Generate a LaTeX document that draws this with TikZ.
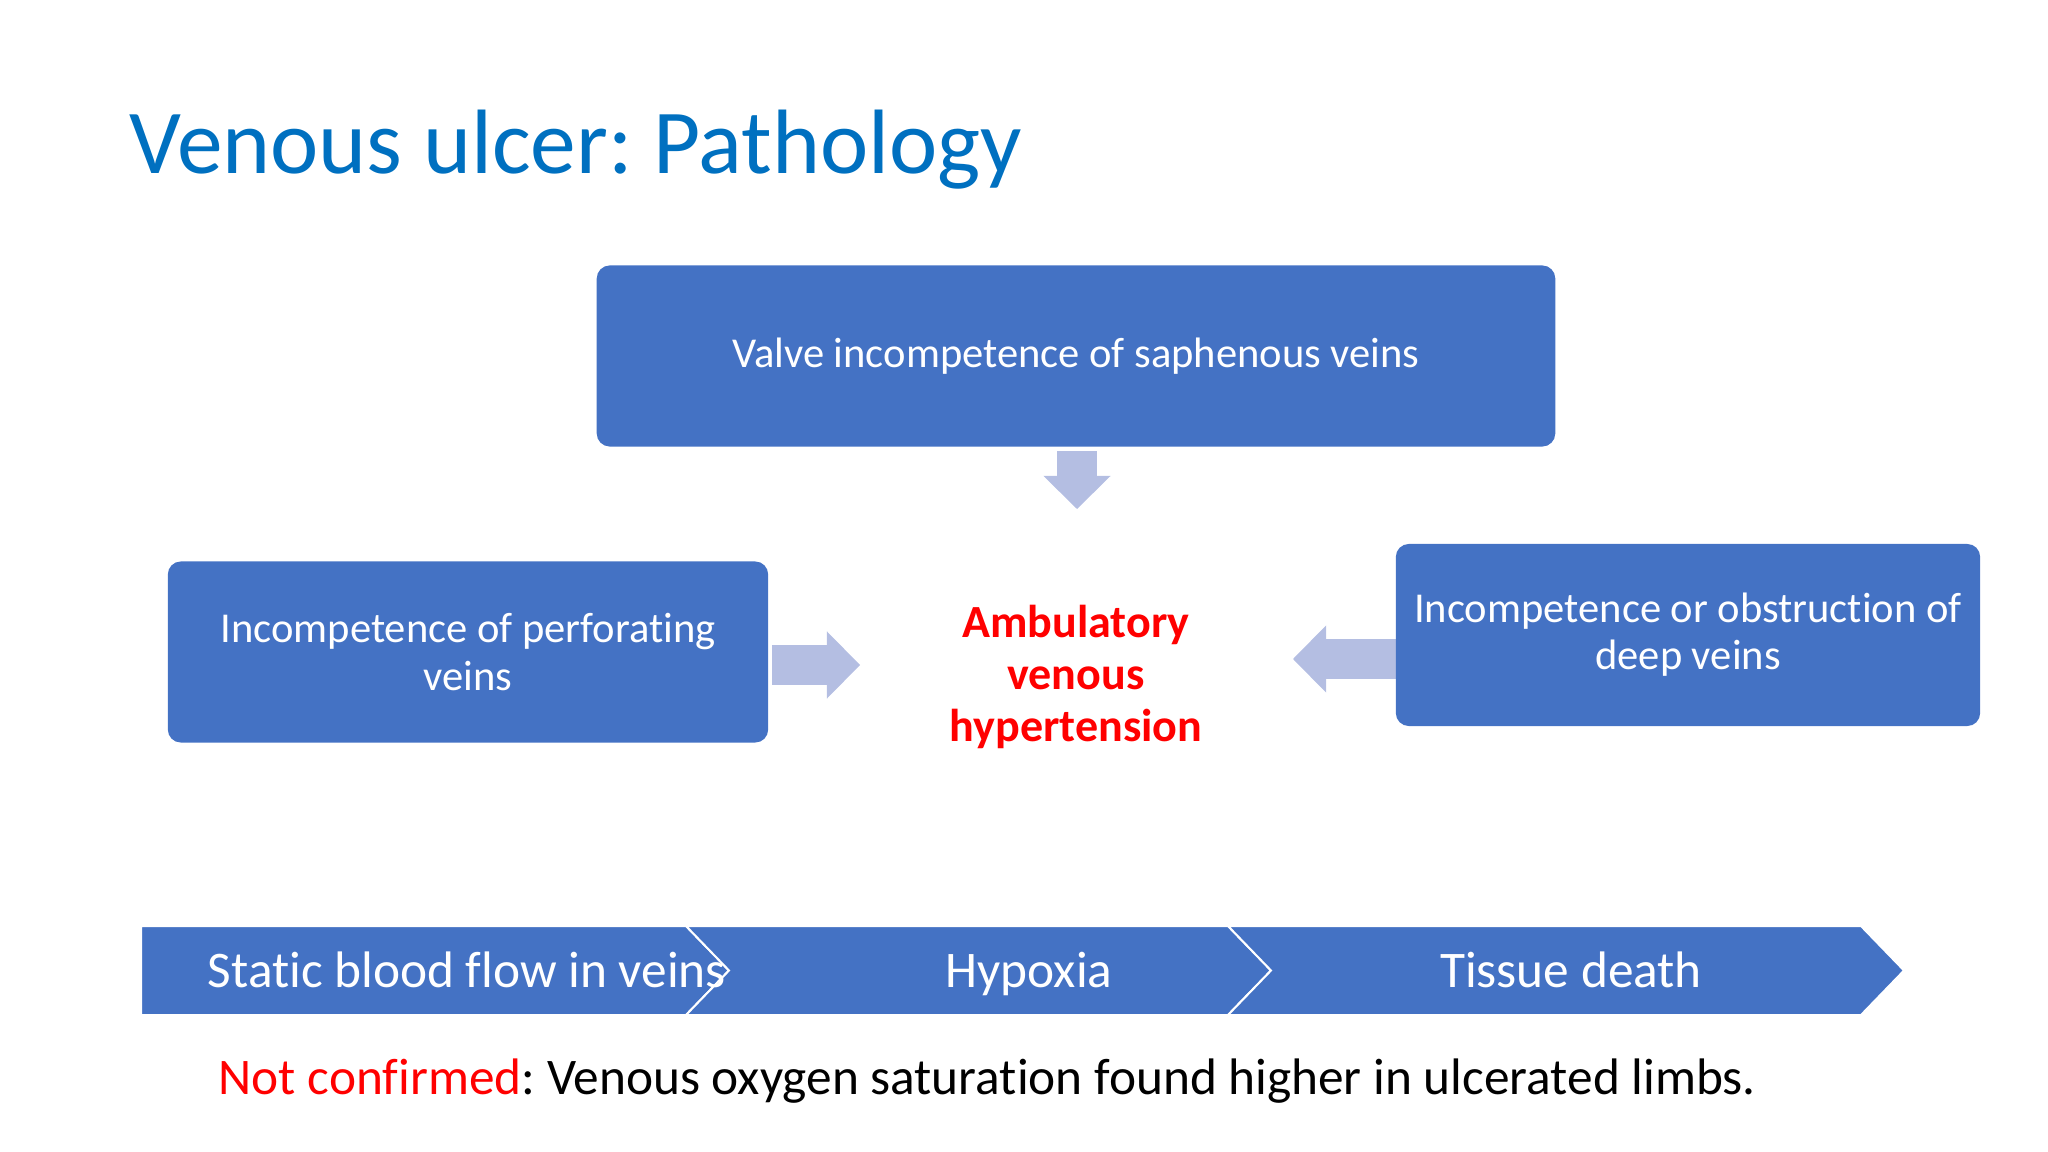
\documentclass[tikz,border=0pt]{standalone}
\usepackage{fontspec}
\setmainfont[Ligatures=NoCommon]{Carlito}
\usepackage{xcolor}
\usetikzlibrary{arrows.meta}
\definecolor{boxblue}{HTML}{4472C4}
\definecolor{arrowlav}{RGB}{180,190,226}
\definecolor{titleblue}{HTML}{0070C0}
\frenchspacing

\begin{document}
\begin{tikzpicture}[x=0.01cm,y=-0.01cm,
  box/.style={fill=boxblue,rounded corners=0.13cm,text=white,align=center,inner sep=0pt,font=\fontsize{12.1}{13.4}\selectfont},
  blockarrow/.style={arrowlav,line width=0.4cm,-{Triangle[length=0.33cm,width=0.67cm,line width=0pt]}},
  chev/.style={fill=boxblue,draw=white,line width=0.02cm,line join=miter},
  chevtext/.style={text=white,anchor=base,inner sep=0pt,font=\fontsize{14.6}{16}\selectfont}]
\useasboundingbox (0,0) rectangle (2048,1152);
\node[anchor=base west,inner sep=0pt,text=titleblue,font=\fontsize{26}{30}\selectfont] (title) at (129,174) {Venous ulcer: Pathology};
\node[box,minimum width=9.58cm,minimum height=1.81cm] (valve) at (1076,356) {Valve incompetence of saphenous veins};
\node[box,minimum width=6cm,minimum height=1.81cm] (perf) at (468,652) {Incompetence of perforating\\veins};
\coordinate (tipleft) at (1293,659);
\draw[blockarrow] (1396,659) -- (tipleft);
\node[box,minimum width=5.84cm,minimum height=1.82cm] (deep) at (1688,635) {Incompetence or obstruction of\\deep veins};
\node[text=red,align=center,font=\bfseries\fontsize{13.1}{14.8}\selectfont] (avh) at (1076,677) {Ambulatory\\venous\\hypertension};
\coordinate (tipdown) at (1077,509);
\coordinate (tipright) at (860,665);
\draw[blockarrow,shorten <=0.04cm] (valve.south -| tipdown) -- (tipdown);
\draw[blockarrow,shorten <=0.03cm] (perf.east |- tipright) -- (tipright);
\draw[chev] (141,926) -- (686,926) -- (729,970.5) -- (686,1015) -- (141,1015) -- cycle;
\foreach \a/\b in {686/1228,1228/1861}{
\draw[chev] (\a,926) -- (\b,926) -- (\b+43,970.5) -- (\b,1015) -- (\a,1015) -- (\a+43,970.5) -- cycle;
}
\node[chevtext] (static) at (467,987) {Static blood flow in veins};
\node[chevtext] (hypoxia) at (1029,987) {Hypoxia};
\node[chevtext] (death) at (1571,987) {Tissue death};
\node[anchor=base west,inner sep=0pt,font=\fontsize{14.6}{16}\selectfont] (note) at (218,1094) {\textcolor{red}{Not confirmed}: Venous oxygen saturation found higher in ulcerated limbs.};
\end{tikzpicture}
\end{document}
